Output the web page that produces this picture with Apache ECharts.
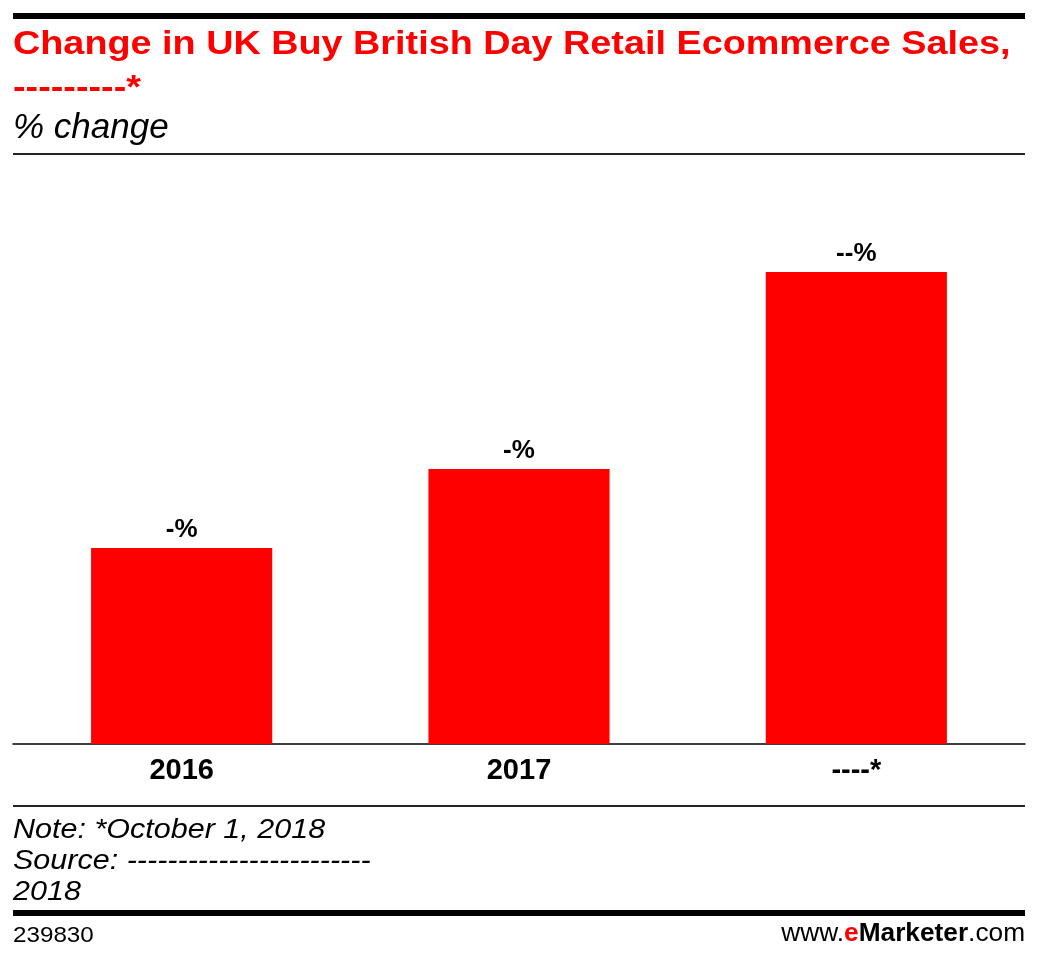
<!DOCTYPE html>
<html>
<head>
<meta charset="utf-8">
<script src="https://cdn.jsdelivr.net/npm/echarts@6/dist/echarts.min.js"></script>
<style>
  html, body { margin: 0; padding: 0; background: #fff; }
  #main { width: 1038px; height: 962px; }
</style>
</head>
<body>
<div id="main"></div>
<script>
// values are hidden in the source; heights
var categories = ['2016', '2017', '----*'];
var values = [19.6, 27.5, 47.2];
var valueLabels = ['-%', '-%', '--%'];

var sans = '"Liberation Sans", Arial, sans-serif';

var chartDom = document.getElementById('main');
var myChart = echarts.init(chartDom);

var option = {
  backgroundColor: '#fff',
  animation: false,
  grid: { left: 13, right: 13, top: 170, bottom: 218 },
  xAxis: {
    type: 'category',
    data: categories,
    axisLine: { lineStyle: { color: '#000', width: 1.5 } },
    axisTick: { show: false },
    axisLabel: {
      color: '#000',
      fontFamily: sans,
      fontWeight: 'bold',
      fontSize: 29,
      margin: 12
    }
  },
  yAxis: {
    type: 'value',
    min: 0,
    max: 57.4,
    show: false,
    splitLine: { show: false }
  },
  series: [
    {
      type: 'bar',
      data: values,
      barWidth: '53.7%',
      itemStyle: { color: '#ff0000' },
      label: {
        show: true,
        position: 'top',
        distance: 5,
        color: '#000',
        fontWeight: 'bold',
        fontSize: 26,
        fontFamily: sans,
        formatter: function (p) { return valueLabels[p.dataIndex]; }
      }
    }
  ],
  graphic: [
    { type: 'rect', shape: { x: 13, y: 13, width: 1012, height: 6 }, style: { fill: '#000' } },
    {
      type: 'text', x: 13, y: 23, scaleX: 1.145,
      style: {
        text: 'Change in UK Buy British Day Retail Ecommerce Sales,\n---------*',
        fill: '#ff0000', font: 'bold 33px ' + sans, lineHeight: 44,
        verticalAlign: 'top'
      }
    },
    {
      type: 'text', x: 13, y: 111,
      style: { text: '% change', fill: '#000', font: 'italic 35px ' + sans, verticalAlign: 'top' }
    },
    { type: 'rect', shape: { x: 13, y: 153, width: 1012, height: 2 }, style: { fill: '#222' } },
    { type: 'rect', shape: { x: 13, y: 805, width: 1012, height: 2 }, style: { fill: '#222' } },
    {
      type: 'text', x: 13, y: 815, scaleX: 1.09,
      style: {
        text: 'Note: *October 1, 2018\nSource: ------------------------\n2018',
        fill: '#000', font: 'italic 28px ' + sans, lineHeight: 31,
        verticalAlign: 'top'
      }
    },
    { type: 'rect', shape: { x: 13, y: 910, width: 1012, height: 6 }, style: { fill: '#000' } },
    {
      type: 'text', x: 13, y: 925, scaleX: 1.1,
      style: { text: '239830', fill: '#000', font: '22px ' + sans, verticalAlign: 'top' }
    },
    {
      type: 'text', x: 1025, y: 922, scaleX: 1.05,
      style: {
        text: '{a|www.}{b|e}{c|Marketer}{a|.com}',
        align: 'right',
        verticalAlign: 'top',
        rich: {
          a: { fill: '#000', font: '25px ' + sans },
          b: { fill: '#ff0000', font: 'bold 25px ' + sans },
          c: { fill: '#000', font: 'bold 25px ' + sans }
        }
      }
    }
  ]
};

option && myChart.setOption(option);
</script>
</body>
</html>
